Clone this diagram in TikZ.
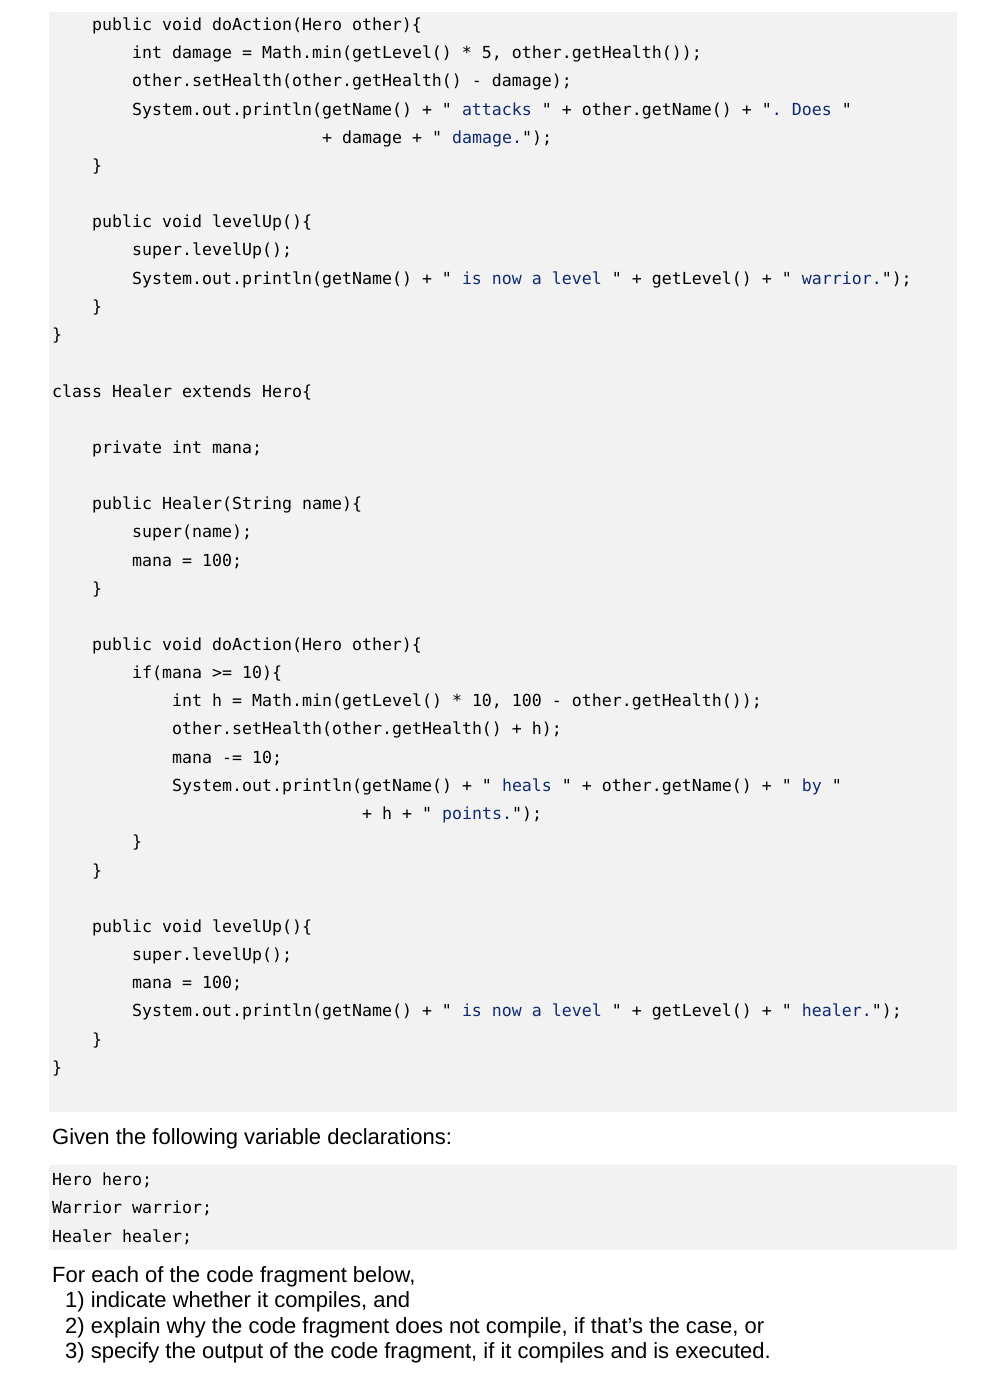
\documentclass[tikz,border=0pt]{standalone}
\usepackage{fontspec}
\setmainfont{Liberation Sans}
\newfontfamily\code{DejaVu Sans Mono}[Ligatures=NoCommon]
\definecolor{codebg}{HTML}{F2F2F2}
\definecolor{strc}{HTML}{102A70}
\newcommand{\sq}[1]{\textcolor{strc}{#1}}
\begin{document}
\begin{tikzpicture}[x=1pt,y=-1pt,
  ln/.style={anchor=west,inner sep=0pt,font=\code\fontsize{16.6}{20}\selectfont},
  tx/.style={anchor=west,inner sep=0pt,font=\fontsize{22}{26}\selectfont}]
\useasboundingbox (0,0) rectangle (992,1396);
\fill[codebg] (49,12) rectangle (957,1112);
\fill[codebg] (49,1165) rectangle (957,1250);
\def\L#1#2#3{\node[ln] (l#1) at ({52+10*#2},{26+28.17*#1}) {#3};}
\L{0}{4}{public void doAction(Hero other)\{}
\L{1}{8}{int damage = Math.min(getLevel() * 5, other.getHealth());}
\L{2}{8}{other.setHealth(other.getHealth() - damage);}
\L{3}{8}{System.out.println(getName() + "\sq{\ attacks\ }" + other.getName() + "\sq{.\ Does\ }"}
\L{4}{27}{+ damage + "\sq{\ damage.}");}
\L{5}{4}{\}}
\L{7}{4}{public void levelUp()\{}
\L{8}{8}{super.levelUp();}
\L{9}{8}{System.out.println(getName() + "\sq{\ is now a level\ }" + getLevel() + "\sq{\ warrior.}");}
\L{10}{4}{\}}
\L{11}{0}{\}}
\L{13}{0}{class Healer extends Hero\{}
\L{15}{4}{private int mana;}
\L{17}{4}{public Healer(String name)\{}
\L{18}{8}{super(name);}
\L{19}{8}{mana = 100;}
\L{20}{4}{\}}
\L{22}{4}{public void doAction(Hero other)\{}
\L{23}{8}{if(mana >= 10)\{}
\L{24}{12}{int h = Math.min(getLevel() * 10, 100 - other.getHealth());}
\L{25}{12}{other.setHealth(other.getHealth() + h);}
\L{26}{12}{mana -= 10;}
\L{27}{12}{System.out.println(getName() + "\sq{\ heals\ }" + other.getName() + "\sq{\ by\ }"}
\L{28}{31}{+ h + "\sq{\ points.}");}
\L{29}{8}{\}}
\L{30}{4}{\}}
\L{32}{4}{public void levelUp()\{}
\L{33}{8}{super.levelUp();}
\L{34}{8}{mana = 100;}
\L{35}{8}{System.out.println(getName() + "\sq{\ is now a level\ }" + getLevel() + "\sq{\ healer.}");}
\L{36}{4}{\}}
\L{37}{0}{\}}
\node[tx] (given) at (52,1139) {Given the following variable declarations:};
\node[ln] (d1) at (52,1180) {Hero hero;};
\node[ln] (d2) at (52,1208) {Warrior warrior;};
\node[ln] (d3) at (52,1237) {Healer healer;};
\node[tx] (t1) at (52,1277) {For each of the code fragment below,};
\node[tx] (t2) at (65,1302) {1) indicate whether it compiles, and};
\node[tx] (t3) at (65,1328) {2) explain why the code fragment does not compile, if that’s the case, or};
\node[tx] (t4) at (65,1353) {3) specify the output of the code fragment, if it compiles and is executed.};
\end{tikzpicture}
\end{document}
